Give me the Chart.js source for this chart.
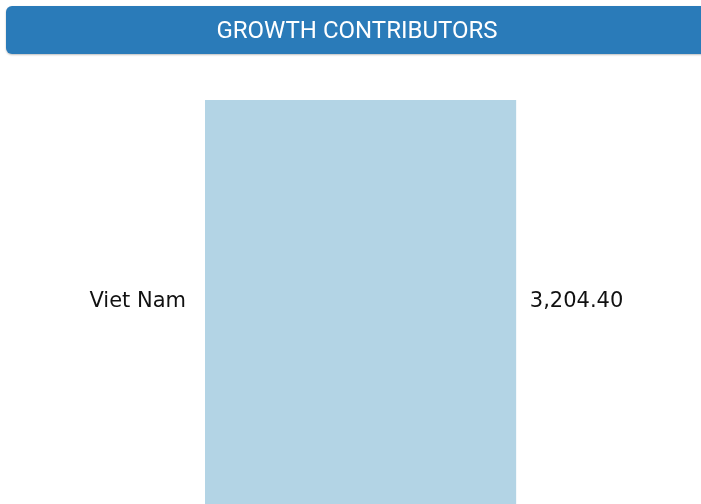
<!DOCTYPE html>
<html>
<head>
<meta charset="utf-8">
<script src="https://cdn.jsdelivr.net/npm/chart.js@4/dist/chart.umd.min.js"></script>
<style>
  html, body { margin: 0; padding: 0; background: #fff; overflow: hidden; }
  #wrap { position: relative; width: 701px; height: 504px; overflow: hidden; }
  #header {
    position: absolute; left: 6px; top: 6px; width: 702px; height: 48px;
    background: #2a7bb9; border-radius: 6px; color: #fff;
    font-family: Roboto, sans-serif; font-size: 24px; line-height: 49px;
    text-align: center; box-shadow: 0 1px 2px rgba(0,0,0,0.25);
  }
  #box { position: absolute; left: 0; top: 0; width: 701px; height: 504px; }
</style>
</head>
<body>
<div id="wrap">
  <div id="box"><canvas id="myChart"></canvas></div>
  <div id="header">GROWTH CONTRIBUTORS</div>
</div>
<script>
var countries = ["Viet Nam"];
var contributions = [3204.40];
var axisMax = 4000;

var valueLabels = {
    id: 'valueLabels',
    afterDatasetsDraw: function(chart) {
        var ctx = chart.ctx;
        var meta = chart.getDatasetMeta(0);
        ctx.save();
        ctx.font = '21px "DejaVu Sans"';
        ctx.fillStyle = '#111';
        ctx.textAlign = 'left';
        ctx.textBaseline = 'middle';
        meta.data.forEach(function(bar, i) {
            var txt = contributions[i].toLocaleString('en-US', {minimumFractionDigits: 2, maximumFractionDigits: 2});
            ctx.fillText(txt, bar.x + 14, bar.y);
        });
        ctx.restore();
    }
};

var ctx = document.getElementById('myChart').getContext('2d');
var chart = new Chart(ctx, {
    type: 'bar',
    data: {
        labels: countries,
        datasets: [{
            data: contributions,
            backgroundColor: '#b3d4e5',
            borderWidth: 0,
            barPercentage: 1,
            categoryPercentage: 1
        }]
    },
    options: {
        indexAxis: 'y',
        responsive: true,
        maintainAspectRatio: false,
        animation: false,
        layout: { padding: { top: 100, right: 108, bottom: 0, left: 0 } },
        plugins: { legend: { display: false }, tooltip: { enabled: false } },
        scales: {
            x: { display: false, min: 0, max: axisMax },
            y: {
                grid: { display: false, drawTicks: false },
                border: { display: false },
                ticks: { padding: 19, color: '#111', font: { family: 'DejaVu Sans', size: 21 } },
                afterFit: function(scale) {
                    scale.width = 205;
                    scale.paddingTop = 0;
                    scale.paddingBottom = 0;
                }
            }
        }
    },
    plugins: [valueLabels]
});
console.log(chart.chartArea, chart.height);
</script>
</body>
</html>
